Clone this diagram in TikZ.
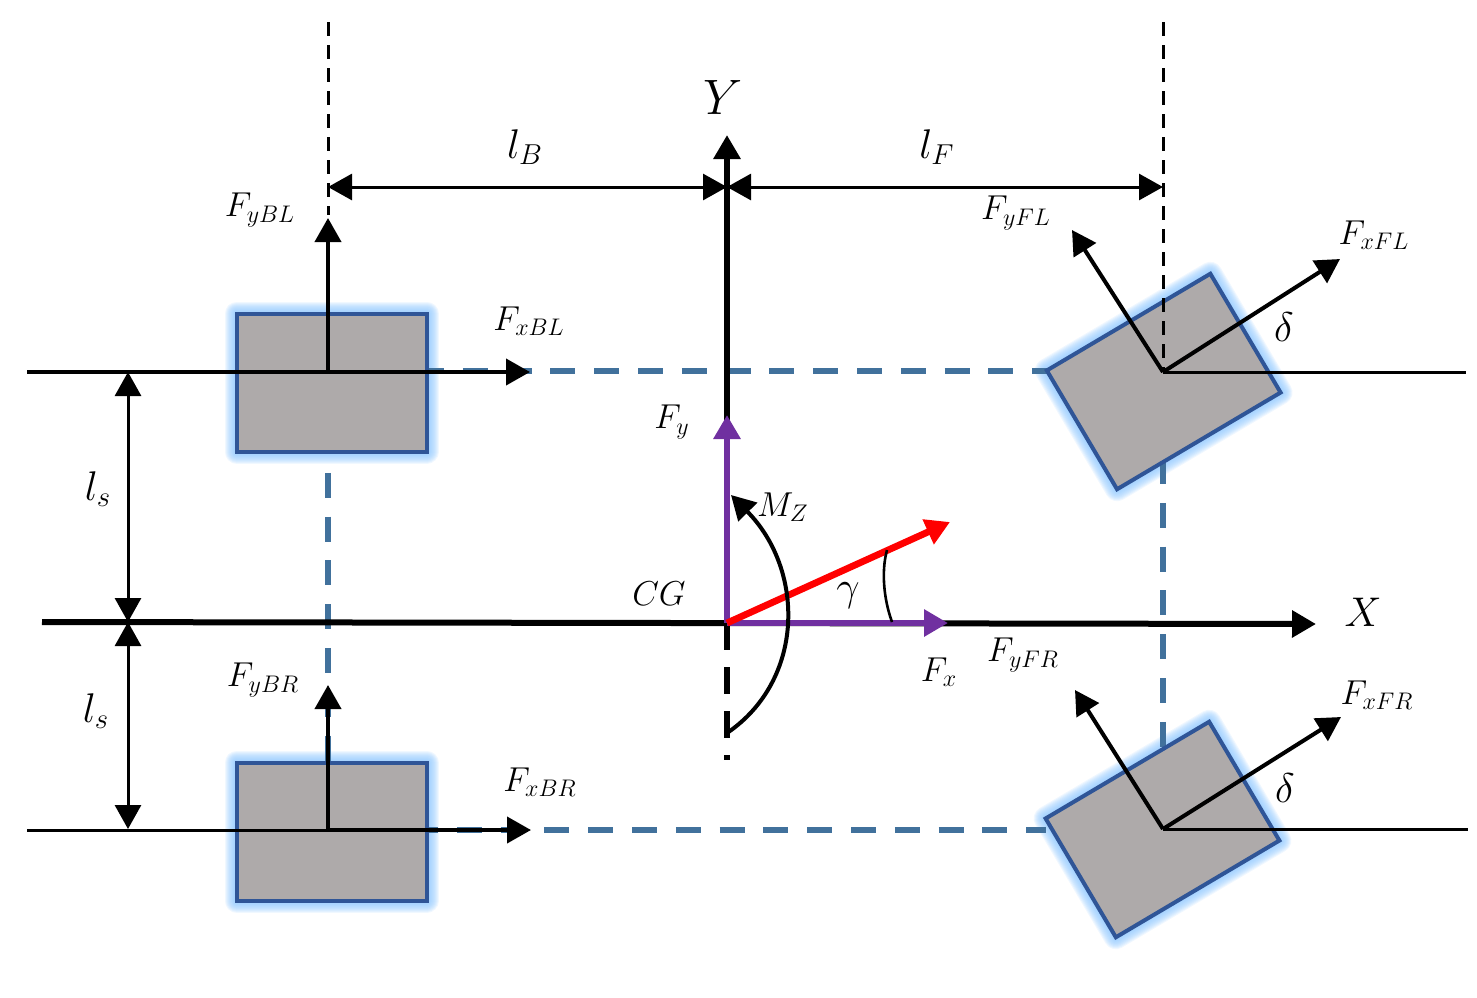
\documentclass[tikz,border=0pt]{standalone}
\usepackage{amsmath}
\usepackage{xcolor}
\usetikzlibrary{arrows.meta}
\definecolor{wheelgray}{HTML}{AEAAAA}
\definecolor{wheeledge}{HTML}{2F5597}
\definecolor{wheelglow}{HTML}{8CC6FF}
\definecolor{linkblue}{HTML}{41719C}
\definecolor{forcepurple}{HTML}{7030A0}
\tikzset{
 wheelbox/.style={draw=wheeledge, fill=wheelgray, line width=2pt, minimum width=95pt, minimum height=69pt, inner sep=0pt},
 glowbox/.style={draw=wheelglow, opacity=0.13, line join=round, minimum width=95pt, minimum height=69pt, inner sep=0pt},
 lab/.style={font=\fontsize{18}{20}\selectfont, inner sep=0pt},
 labbig/.style={font=\fontsize{22}{24}\selectfont, inner sep=0pt},
 link/.style={draw=linkblue, line width=3pt, dash pattern=on 12.5pt off 9.4pt},
 guide/.style={line width=1.5pt, dash pattern=on 7pt off 4.5pt},
 force/.style={->, line width=2pt},
 dim/.style={<->, line width=1.5pt},
}
\newcommand{\wheellist}{BL/331.5/382.5/0, BR/331.5/831.5/0, FL/1163.7/381.5/30.6, FR/1162.5/829.5/30.6}
\begin{document}
\begin{tikzpicture}[x=0.5pt, y=-0.5pt, >={Triangle[length=12pt,width=13pt]}]
 \useasboundingbox (0,0) rectangle (1477,997);
 %\draw [help lines] (0,0) grid [step=100] (1477,997);
 \coordinate (hubBL) at (328,372);
 \coordinate (hubBR) at (328,830);
 \coordinate (hubFL) at (1163,372);
 \coordinate (hubFR) at (1163,829);
 \coordinate (cg) at (727,623);
 % glow round the wheels
 \foreach \n/\x/\y/\a in \wheellist
  \foreach \w in {12,11,10,9,8,7,6,5,4,3}
   \node [glowbox, line width=\w pt, rotate=\a] (glow\n\w) at (\x,\y) {};
 % blue links between the wheels
 \coordinate (linkTa) at (419,370.5);
 \coordinate (linkTb) at (1047,370.5);
 \coordinate (linkDa) at (413,829.5);
 \coordinate (linkDb) at (1046,829.5);
 \coordinate (linkLa) at (328,429);
 \coordinate (linkLb) at (328,762);
 \coordinate (linkRa) at (1163,459);
 \coordinate (linkRb) at (1163,748);
 \draw [link] (linkTa) -- (linkTb);
 \draw [link] (linkDa) -- (linkDb);
 \draw [link] (linkLa) -- (linkLb);
 \draw [link] (linkRa) -- (linkRb);
 % wheels
 \foreach \n/\x/\y/\a in \wheellist
  \node [wheelbox, rotate=\a] (\n) at (\x,\y) {};
 % thin guides
 \coordinate (guideBL) at (328,22);
 \coordinate (guideBLe) at (328,215);
 \coordinate (guideFL) at (1163,22);
 \coordinate (cgEnd) at (727,760);
 \draw [guide] (guideBL) -- (guideBLe);
 \draw [guide] (guideFL) -- (hubFL);
 \draw [line width=3pt, dash pattern=on 13.5pt off 8.5pt] (cg) -- (cgEnd);
 % axes
 \coordinate (axXa) at (42,622);
 \coordinate (axXb) at (1316,624);
 \coordinate (axY) at (727,135);
 \draw [->, line width=3pt] (axXa) -- (axXb);
 \draw [->, line width=3pt] (cg) -- (axY);
 % wheel lines
 \coordinate (lineBL) at (27,372);
 \coordinate (lineBR) at (27,830);
 \coordinate (lineFL) at (1466,372);
 \coordinate (lineFR) at (1468,829);
 \draw [line width=1.5pt] (hubFL) -- (lineFL);
 \draw [line width=1.5pt] (hubFR) -- (lineFR);
 %
 \coordinate (xBL) at (530,372);
 \coordinate (yBL) at (328,218);
 \coordinate (xBR) at (531,830);
 \coordinate (yBR) at (328,685);
 \coordinate (xFL) at (1340,259);
 \coordinate (yFL) at (1072,230);
 \coordinate (xFR) at (1341,717);
 \coordinate (yFR) at (1075,690);
 \draw [force] (lineBL) -- (xBL);
 \draw [force] (hubBL) -- (yBL);
 \draw [line width=1.5pt] (lineBR) -- (hubBR);
 \draw [force] (hubBR) -- (xBR);
 \draw [force] (hubBR) -- (yBR);
 \draw [force] (hubFL) -- (xFL);
 \draw [force] (hubFL) -- (yFL);
 \draw [force] (hubFR) -- (xFR);
 \draw [force] (hubFR) -- (yFR);
 % dimensions
 \coordinate (dimBa) at (328,187);
 \coordinate (dimM) at (727,187);
 \coordinate (dimFb) at (1163,187);
 \coordinate (dimSa) at (128,372);
 \coordinate (dimSm) at (128,622);
 \coordinate (dimSb) at (128,829);
 \draw [dim] (dimBa) -- (dimM);
 \draw [dim] (dimM) -- (dimFb);
 \draw [dim] (dimSa) -- (dimSm);
 \draw [dim] (dimSm) -- (dimSb);
 % forces at the centre
 \coordinate (fyEnd) at (727,415);
 \coordinate (fxEnd) at (948,623);
 \coordinate (velEnd) at (950,522);
 \draw [->, forcepurple, line width=3.4pt] (cg) -- (fyEnd);
 \draw [->, forcepurple, line width=3.4pt] (cg) -- (fxEnd);
 \draw [->, red, line width=3.4pt] (cg) -- (velEnd);
 \coordinate (mzA) at (727,733);
 \coordinate (mzB) at (731,495);
 \coordinate (gaA) at (887,550);
 \coordinate (gaB) at (892,622);
 \draw [->, line width=2pt] (mzA) .. controls (805,680) and (805,570) .. (mzB);
 \draw [line width=1.3pt] (gaA) .. controls (881,572) and (884,600) .. (gaB);
 % labels
 \node [lab] (tyBL) at (260,210) {$F_{yBL}$};
 \node [lab] (txBL) at (529,321) {$F_{xBL}$};
 \node [lab] (tyBR) at (263,680) {$F_{yBR}$};
 \node [lab] (txBR) at (540,782) {$F_{xBR}$};
 \node [lab] (tyFL) at (1016,213) {$F_{yFL}$};
 \node [lab] (txFL) at (1374,235) {$F_{xFL}$};
 \node [lab] (tyFR) at (1023,655) {$F_{yFR}$};
 \node [lab] (txFR) at (1377,695) {$F_{xFR}$};
 \node [labbig] (tdFL) at (1284,327) {$\delta$};
 \node [labbig] (tdFR) at (1285,788) {$\delta$};
 \node [labbig] (tlB) at (525,147) {$l_B$};
 \node [labbig] (tlF) at (937,147) {$l_F$};
 \node [labbig] (tlsa) at (98,489) {$l_s$};
 \node [labbig] (tlsb) at (96,711) {$l_s$};
 \node [font=\fontsize{26}{28}\selectfont, inner sep=0pt] (tY) at (723,97) {$Y$};
 \node [labbig] (tX) at (1363,612) {$X$};
 \node [lab] (tFy) at (672,422) {$F_y$};
 \node [lab] (tFx) at (939,672) {$F_x$};
 \node [lab] (tMz) at (783,507) {$M_Z$};
 \node [font=\fontsize{16}{18}\selectfont, inner sep=0pt] (tCG) at (659,594) {$CG$};
 \node [labbig] (tga) at (848,596) {$\gamma$};
\end{tikzpicture}
\end{document}
